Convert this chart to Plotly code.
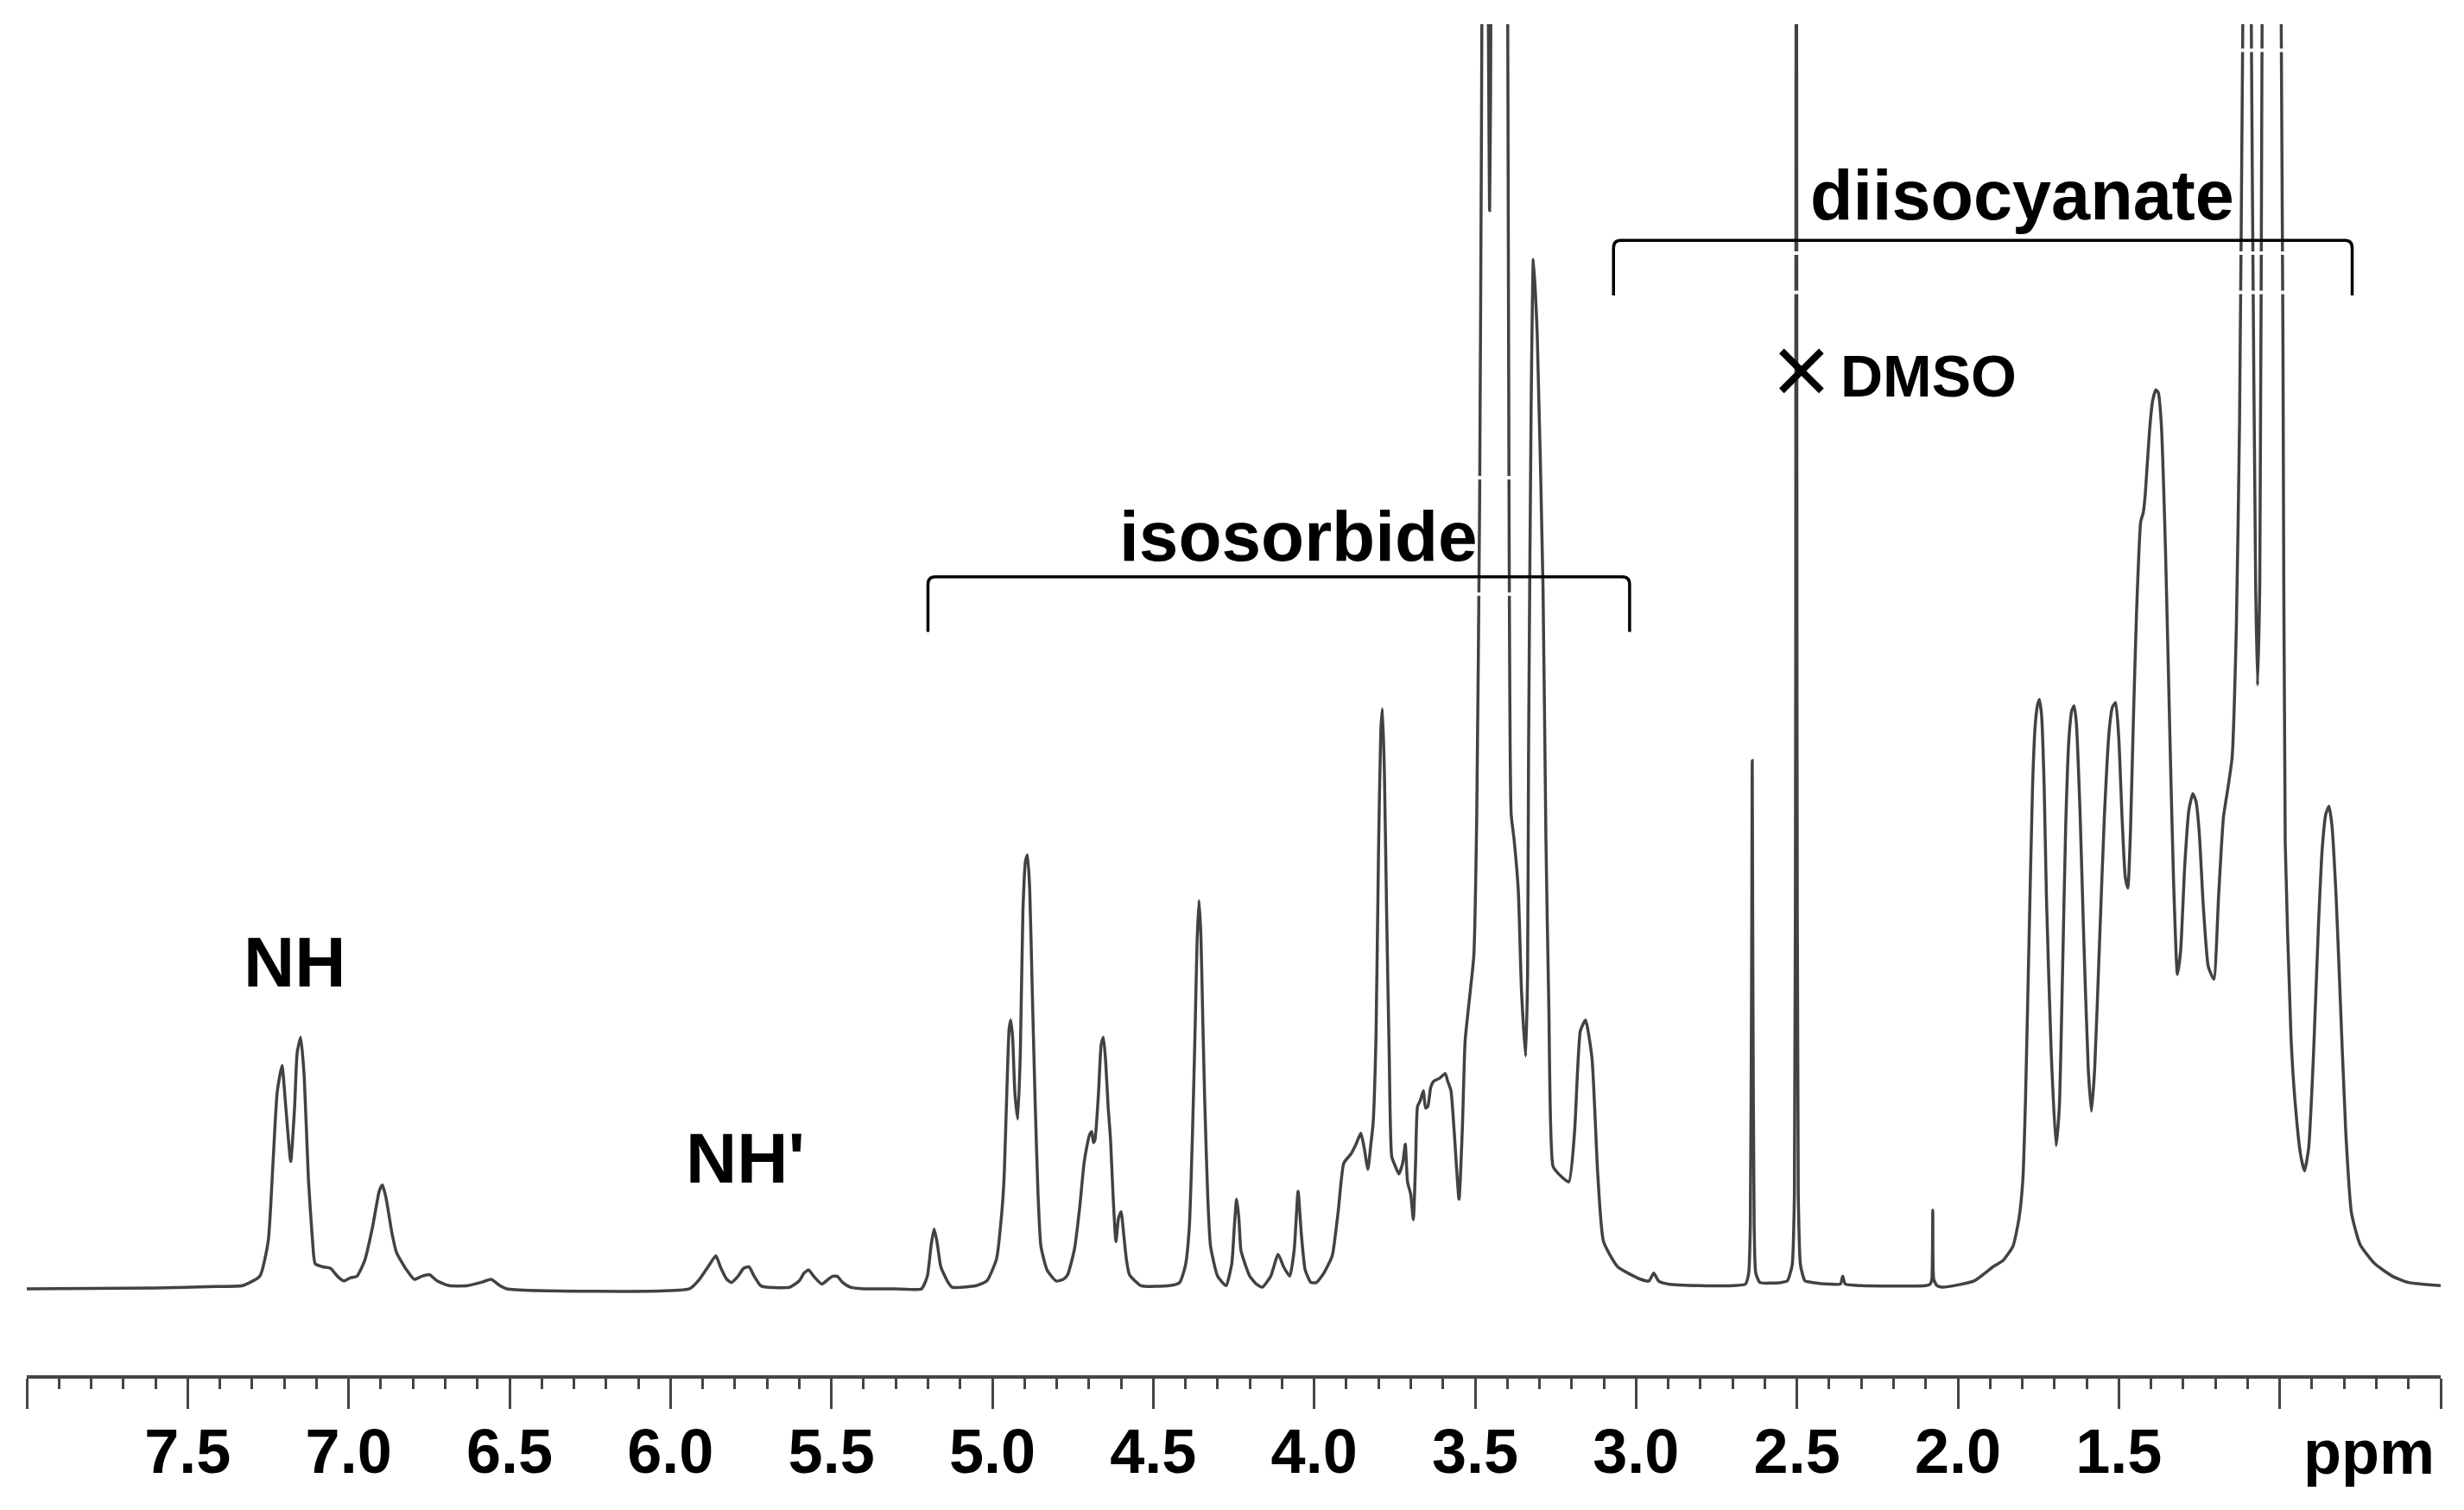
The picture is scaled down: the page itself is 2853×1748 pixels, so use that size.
import plotly.graph_objects as go

# ---------------- data (ppm, intensity above baseline) ----------------
BASE_LEFT = [(8.00, 0), (7.60, 0.5), (7.412, 1.5), (7.33, 2)]
NH_REGION = [
    (7.276, 8), (7.25, 30), (7.235, 80), (7.222, 125), (7.207, 142), (7.195, 115),
    (7.180, 81), (7.168, 115), (7.160, 150), (7.149, 160), (7.138, 135), (7.125, 70),
    (7.112, 30), (7.104, 16), (7.08, 14), (7.056, 13), (7.035, 8), (7.015, 5),
    (6.994, 7), (6.974, 8), (6.95, 18), (6.925, 40), (6.905, 62), (6.895, 66),
    (6.884, 58), (6.865, 35), (6.851, 23), (6.82, 12), (6.796, 6), (6.772, 8),
    (6.749, 9), (6.725, 5), (6.687, 2), (6.63, 2), (6.59, 4), (6.557, 6),
    (6.53, 2), (6.509, 0),
]
NH2_REGION = [
    (5.941, 0), (5.91, 6), (5.88, 15), (5.859, 21), (5.845, 14), (5.825, 6),
    (5.811, 4), (5.79, 8), (5.773, 13), (5.756, 14), (5.74, 8), (5.72, 2),
    (5.701, 1), (5.63, 1), (5.60, 5), (5.585, 10), (5.571, 12), (5.555, 8),
    (5.530, 3), (5.51, 6), (5.496, 8), (5.482, 8), (5.465, 4), (5.441, 1),
    (5.40, 0), (5.30, 0), (5.220, 0),
]
ISOSORBIDE_REGION = [
    (5.202, 8), (5.190, 28), (5.181, 38), (5.172, 30), (5.160, 14), (5.14, 5),
    (5.125, 1), (5.05, 2), (5.017, 5), (4.987, 19), (4.970, 50), (4.963, 73),
    (4.955, 125), (4.948, 165), (4.943, 171), (4.937, 160), (4.930, 125), (4.921, 108),
    (4.913, 150), (4.905, 240), (4.897, 272), (4.891, 276), (4.884, 255), (4.876, 190),
    (4.867, 119), (4.858, 60), (4.849, 27), (4.83, 12), (4.802, 5), (4.78, 6),
    (4.766, 9), (4.745, 25), (4.729, 51), (4.715, 80), (4.705, 92), (4.698, 98),
    (4.691, 100), (4.686, 93), (4.681, 95), (4.670, 125), (4.662, 155), (4.655, 160),
    (4.648, 145), (4.640, 115), (4.633, 96), (4.625, 60), (4.616, 30), (4.608, 45),
    (4.600, 49), (4.592, 35), (4.583, 18), (4.574, 9), (4.538, 2), (4.45, 2),
    (4.418, 4), (4.40, 15), (4.388, 39), (4.378, 100), (4.370, 165), (4.364, 220),
    (4.358, 247), (4.352, 225), (4.346, 170), (4.340, 119), (4.331, 60), (4.322, 27),
    (4.30, 8), (4.274, 2), (4.256, 16), (4.248, 40), (4.241, 57), (4.234, 45),
    (4.228, 25), (4.220, 19), (4.20, 8), (4.18, 3), (4.161, 1), (4.135, 8),
    (4.112, 22), (4.095, 14), (4.076, 8), (4.062, 25), (4.050, 62), (4.040, 35),
    (4.028, 12), (4.010, 4), (3.993, 4), (3.97, 10), (3.944, 21), (3.925, 50),
    (3.908, 80), (3.885, 86), (3.870, 92), (3.855, 99), (3.845, 90), (3.833, 76),
    (3.825, 90), (3.817, 105), (3.808, 160), (3.800, 280), (3.793, 355), (3.788, 369),
    (3.782, 330), (3.775, 240), (3.767, 150), (3.759, 84), (3.748, 78), (3.737, 73),
    (3.725, 80), (3.717, 92), (3.710, 68), (3.700, 60), (3.692, 44), (3.685, 80),
    (3.679, 116), (3.670, 120), (3.661, 126), (3.654, 115), (3.647, 116), (3.638, 128),
    (3.629, 132), (3.61, 134), (3.593, 137), (3.585, 132), (3.575, 126), (3.565, 100),
    (3.550, 57), (3.540, 100), (3.531, 158), (3.520, 180), (3.504, 212), (3.495, 300),
    (3.486, 500), (3.480, 750), (3.477, 900), (3.470, 1000), (3.462, 900), (3.457, 740),
    (3.455, 686), (3.452, 760), (3.445, 1000), (3.42, 1100), (3.405, 1000), (3.400, 900),
    (3.396, 600), (3.388, 302), (3.379, 286), (3.366, 254), (3.356, 190), (3.343, 148),
    (3.337, 200), (3.334, 340), (3.326, 560), (3.319, 655), (3.307, 607), (3.289, 446),
    (3.280, 286), (3.271, 180), (3.258, 78), (3.240, 73), (3.209, 68), (3.191, 100),
    (3.173, 164), (3.157, 171), (3.137, 147), (3.119, 73), (3.101, 30), (3.057, 14),
    (2.985, 6),
]
MIDDLE_REGION = [
    (2.96, 5), (2.945, 10), (2.93, 5), (2.90, 3), (2.80, 2), (2.70, 2),
    (2.660, 3), (2.650, 10), (2.645, 40), (2.641, 200), (2.639, 336), (2.637, 200),
    (2.633, 40), (2.628, 10), (2.615, 4), (2.55, 4), (2.530, 5), (2.515, 15),
    (2.508, 60), (2.504, 400), (2.502, 1300), (2.500, 400), (2.496, 60), (2.489, 15),
    (2.475, 5), (2.45, 4), (2.40, 3), (2.365, 3), (2.358, 8), (2.350, 3),
    (2.30, 2), (2.10, 2), (2.086, 3), (2.081, 6), (2.078, 50), (2.075, 6),
    (2.065, 2), (2.046, 1), (1.95, 5),
]
DIISOCYANATE_REGION = [
    (1.891, 14), (1.86, 18), (1.829, 27), (1.81, 45), (1.798, 70), (1.790, 120),
    (1.778, 231), (1.768, 320), (1.760, 358), (1.753, 371), (1.747, 375), (1.740, 365),
    (1.732, 320), (1.725, 250), (1.710, 150), (1.695, 91), (1.685, 115), (1.675, 200),
    (1.665, 295), (1.655, 350), (1.646, 368), (1.639, 371), (1.632, 360), (1.620, 300),
    (1.61, 230), (1.595, 140), (1.585, 113), (1.575, 140), (1.560, 220), (1.545, 300),
    (1.530, 355), (1.520, 370), (1.510, 373), (1.500, 350), (1.490, 300), (1.480, 262),
    (1.472, 255), (1.464, 290), (1.455, 360), (1.445, 430), (1.432, 488), (1.424, 494),
    (1.418, 505), (1.405, 545), (1.395, 565), (1.385, 572), (1.377, 570), (1.368, 550),
    (1.355, 470), (1.340, 340), (1.330, 260), (1.318, 200), (1.308, 215), (1.295, 270),
    (1.282, 305), (1.270, 315), (1.260, 310), (1.250, 290), (1.238, 245), (1.222, 205),
    (1.205, 197), (1.190, 250), (1.175, 300), (1.160, 320), (1.148, 338),
    (1.135, 420), (1.125, 550), (1.115, 800), (1.108, 1000), (1.102, 1100), (1.095, 1000),
    (1.085, 700), (1.075, 450), (1.069, 384), (1.062, 450), (1.055, 800), (1.048, 1100),
    (1.040, 1000), (1.030, 900), (1.020, 950), (1.010, 1100), (1.004, 1100), (0.998, 900),
    (0.990, 600), (0.983, 284), (0.965, 160), (0.952, 118), (0.935, 85), (0.923, 75),
    (0.910, 90), (0.895, 150), (0.880, 230), (0.868, 280), (0.857, 302), (0.847, 307),
    (0.838, 295), (0.825, 250), (0.815, 200), (0.795, 100), (0.777, 48), (0.75, 28),
    (0.705, 16), (0.65, 8), (0.60, 4), (0.50, 2),
]

MAJOR_TICKS = [8.0, 7.5, 7.0, 6.5, 6.0, 5.5, 5.0, 4.5, 4.0, 3.5, 3.0, 2.5, 2.0, 1.5, 1.0, 0.5]
TICK_LABELS = ["", "7.5", "7.0", "6.5", "6.0", "5.5", "5.0", "4.5", "4.0", "3.5",
               "3.0", "2.5", "2.0", "1.5", "", ""]

# peak labels: text, ppm, intensity, font size
PEAK_LABELS = ["NH", "NH'", "isosorbide", "diisocyanate", "DMSO"]
PEAK_LABEL_X = [7.167, 5.768, 4.048, 1.799, 2.092]
PEAK_LABEL_Y = [208, 83, 479, 696, 581]
PEAK_LABEL_SIZE = [82, 82, 82, 81, 68]

# brackets: left ppm, right ppm, line level, leg bottom level
BRACKET_LEFT = [5.20, 3.07]
BRACKET_RIGHT = [3.02, 0.775]
BRACKET_TOP = [453, 667]
BRACKET_BOTTOM = [418, 632]

SOLVENT_MARK = (2.486, 584)

# ---------------- figure ----------------
spectrum = BASE_LEFT + NH_REGION + NH2_REGION + ISOSORBIDE_REGION + MIDDLE_REGION + DIISOCYANATE_REGION
xs = [p[0] for p in spectrum]
ys = [p[1] for p in spectrum]

fig = go.Figure()
fig.add_trace(go.Scatter(x=xs, y=ys, mode="lines",
                         line=dict(color="#424242", width=3.5, shape="spline", smoothing=0.5),
                         hoverinfo="skip", showlegend=False))
fig.add_trace(go.Scatter(x=[SOLVENT_MARK[0]], y=[SOLVENT_MARK[1]], mode="markers",
                         marker=dict(symbol="x-thin", size=46,
                                     line=dict(color="black", width=8)),
                         hoverinfo="skip", showlegend=False, cliponaxis=False))

shapes = []
dx = 0.022
dy = 5
for xl, xr, yt, yb in zip(BRACKET_LEFT, BRACKET_RIGHT, BRACKET_TOP, BRACKET_BOTTOM):
    path = (f"M {xl},{yb} L {xl},{yt - dy} Q {xl},{yt} {xl - dx},{yt} "
            f"L {xr + dx},{yt} Q {xr},{yt} {xr},{yt - dy} L {xr},{yb}")
    shapes.append(dict(type="path", path=path, xref="x", yref="y",
                       line=dict(color="black", width=3.5), layer="above"))

# small white breaks seen in the tall lines under the bracket groups
GAP_SPANS = [(3.55, 3.37, 516), (3.55, 3.37, 442), (3.04, 0.80, 659), (2.56, 0.95, 634), (1.2, 0.95, 788)]
for x0, x1, yg in GAP_SPANS:
    shapes.append(dict(type="line", x0=x0, x1=x1, y0=yg, y1=yg, xref="x", yref="y",
                       line=dict(color="white", width=4), layer="above"))

annotations = []
for txt, ax_, ay_, fs in zip(PEAK_LABELS, PEAK_LABEL_X, PEAK_LABEL_Y, PEAK_LABEL_SIZE):
    annotations.append(dict(text=txt, x=ax_, y=ay_, xref="x", yref="y",
                            showarrow=False, xanchor="center", yanchor="middle",
                            font=dict(family="Liberation Sans, Arial, sans-serif",
                                      size=fs, color="black", weight="bold")))
annotations.append(dict(text="ppm", x=0.9982, y=-0.0569, xref="paper", yref="paper",
                        showarrow=False, xanchor="right", yanchor="middle",
                        font=dict(family="Liberation Sans, Arial, sans-serif",
                                  size=72, color="black", weight="bold")))

# the page body adds an 8 px offset, so the figure is 8 px smaller on each side
fig.update_layout(
    width=2845, height=1740,
    margin=dict(l=23, r=27, t=20, b=156, pad=0),
    paper_bgcolor="white", plot_bgcolor="white",
    shapes=shapes, annotations=annotations,
    xaxis=dict(range=[8.0, 0.5], showgrid=False, zeroline=False,
               showline=True, linecolor="#454545", linewidth=4,
               ticks="outside", ticklen=35, tickwidth=3, tickcolor="#454545",
               tickmode="array", tickvals=MAJOR_TICKS, ticktext=TICK_LABELS,
               ticklabelstandoff=-12,
               tickfont=dict(family="Liberation Sans, Arial, sans-serif", size=72,
                             color="black", weight="bold"),
               minor=dict(tickmode="linear", tick0=0.0, dtick=0.1, ticklen=12,
                          tickwidth=3, tickcolor="#454545", ticks="outside",
                          showgrid=False)),
    yaxis=dict(range=[-55, 804.6], visible=False, showgrid=False, zeroline=False),
)

fig.write_html("out.html")
